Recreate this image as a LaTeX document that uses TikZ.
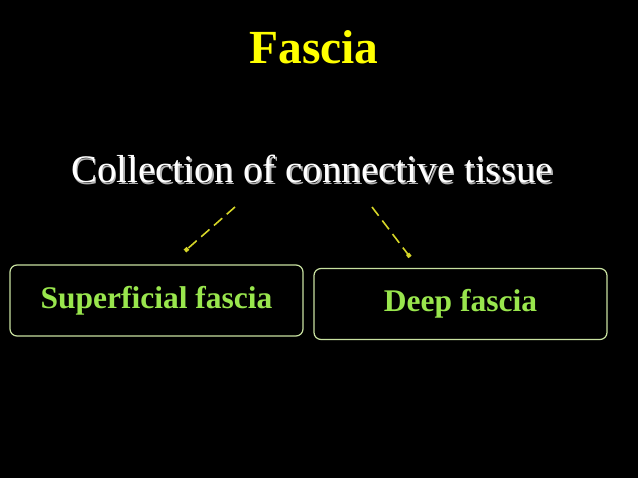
\documentclass[tikz,border=0pt]{standalone}
\usepackage{fontspec}
\setmainfont{Liberation Serif}
\usetikzlibrary{arrows.meta}
\definecolor{titleyellow}{RGB}{255,255,0}
\definecolor{arrowyellow}{RGB}{214,214,40}
\definecolor{boxgreen}{RGB}{153,230,77}
\definecolor{boxline}{RGB}{200,225,160}
\begin{document}
\begin{tikzpicture}
      [x = 1pt, y = 1pt,
       box/.style = {draw = boxline, line width = 1.2pt, rounded corners = 7pt,
         minimum width = 293pt, minimum height = 71pt,
         text = boxgreen, font = \fontsize{31.5}{34}\selectfont\bfseries},
       link/.style = {arrowyellow, line width = 1.6pt, dash pattern = on 11pt off 6pt,
         -{Square[length = 4pt, width = 4pt]}}]
      \fill[black] (0,0) rectangle (638,478);
      \useasboundingbox (0,0) rectangle (638,478);
      \node[text = titleyellow, font = \fontsize{47.5}{50}\selectfont\bfseries]
        (title) at (314,431) {Fascia};
      \node[anchor = base, text = gray!60, font = \fontsize{39}{42}\selectfont]
        (shadow) at (313.5,293.5) {Collection of connective tissue};
      \node[anchor = base, text = white, font = \fontsize{39}{42}\selectfont]
        (tissue) at (312,295) {Collection of connective tissue};
      \node[box] (superficial) at (156.5,177.5) {Superficial fascia};
      \node[box] (deep) at (460.5,174) {Deep fascia};
      \coordinate (s1) at (235,271);
      \coordinate (e1) at (185,227);
      \coordinate (s2) at (372,271);
      \coordinate (e2) at (410,221);
      \foreach \n in {1,2}
        \draw[link] (s\n) -- (e\n);
    \end{tikzpicture}
\end{document}
